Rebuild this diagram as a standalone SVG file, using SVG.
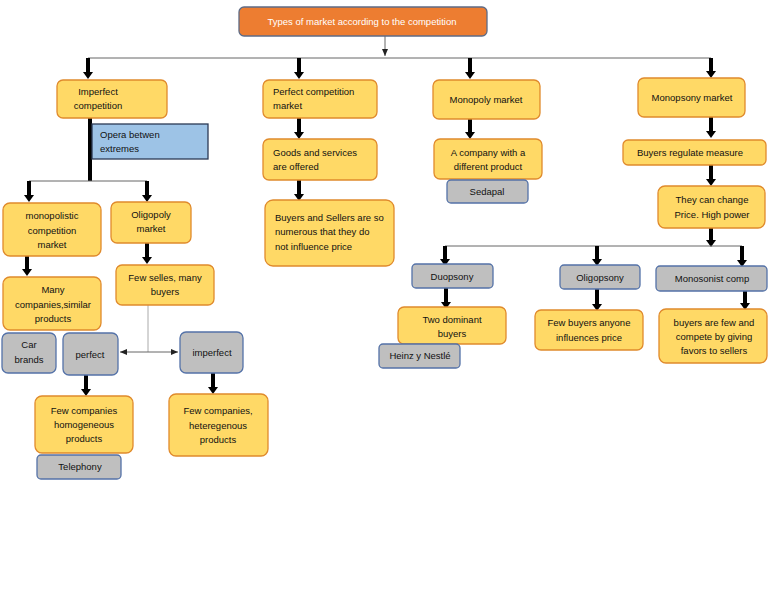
<svg xmlns="http://www.w3.org/2000/svg" width="768" height="594" viewBox="0 0 768 594">
<defs>
<marker id="thick" markerUnits="userSpaceOnUse" markerWidth="7" markerHeight="10" refX="0" refY="5" orient="auto" viewBox="0 0 7 10">
<path d="M0,0 L7,5 L0,10 Z" fill="#000"/>
</marker>
<marker id="thin" markerUnits="userSpaceOnUse" markerWidth="7" markerHeight="6" refX="7" refY="3" orient="auto" viewBox="0 0 7 6">
<path d="M0,0 L7,3 L0,6 Z" fill="#222"/>
</marker>
<style>
.y{fill:#FFD966;stroke:#E08A2C;stroke-width:1.3}
.g{fill:#BFBFBF;stroke:#5472A8;stroke-width:1.3}
.b{fill:#9DC3E6;stroke:#2B3A55;stroke-width:1.3}
.o{fill:#ED7D31;stroke:#5D6B86;stroke-width:1.3}
text{font-family:"Liberation Sans","DejaVu Sans",sans-serif;font-size:9.5px;fill:#111;text-anchor:middle}
text.l{text-anchor:start}
text.w{fill:#fff}
.tk{stroke:#000;stroke-width:4;fill:none}
.tn{stroke:#666;stroke-width:1;fill:none}
.tg{stroke:#aaa;stroke-width:1;fill:none}
</style>
</defs>
<rect width="768" height="594" fill="#fff"/>
<g id="connectors">
<line class="tn" x1="385" y1="36" x2="385" y2="56" marker-end="url(#thin)"/>
<line class="tn" x1="88" y1="58" x2="711" y2="58"/>
<line class="tk" x1="88" y1="58" x2="88" y2="72" marker-end="url(#thick)"/>
<line class="tk" x1="299" y1="58" x2="299" y2="72" marker-end="url(#thick)"/>
<line class="tk" x1="470" y1="58" x2="470" y2="72" marker-end="url(#thick)"/>
<line class="tk" x1="711" y1="58" x2="711" y2="71" marker-end="url(#thick)"/>
<line class="tk" x1="90" y1="118" x2="90" y2="181"/>
<line class="tn" x1="29" y1="181" x2="147" y2="181"/>
<line class="tk" x1="29" y1="181" x2="29" y2="195" marker-end="url(#thick)"/>
<line class="tk" x1="147" y1="181" x2="147" y2="195" marker-end="url(#thick)"/>
<line class="tk" x1="27" y1="256" x2="27" y2="269" marker-end="url(#thick)"/>
<line class="tk" x1="147" y1="243" x2="147" y2="257" marker-end="url(#thick)"/>
<line class="tg" x1="148" y1="305" x2="148" y2="352"/>
<line class="tn" x1="148" y1="352" x2="120" y2="352" marker-end="url(#thin)"/>
<line class="tn" x1="148" y1="352" x2="178" y2="352" marker-end="url(#thin)"/>
<line class="tk" x1="86" y1="375" x2="86" y2="389" marker-end="url(#thick)"/>
<line class="tk" x1="213" y1="373" x2="213" y2="387" marker-end="url(#thick)"/>
<line class="tk" x1="299" y1="118" x2="299" y2="132" marker-end="url(#thick)"/>
<line class="tk" x1="299" y1="180" x2="299" y2="194" marker-end="url(#thick)"/>
<line class="tk" x1="470" y1="119" x2="470" y2="132" marker-end="url(#thick)"/>
<line class="tk" x1="711" y1="117" x2="711" y2="131" marker-end="url(#thick)"/>
<line class="tk" x1="711" y1="165" x2="711" y2="179" marker-end="url(#thick)"/>
<line class="tk" x1="711" y1="228" x2="711" y2="240" marker-end="url(#thick)"/>
<line class="tn" x1="445" y1="246" x2="742" y2="246"/>
<line class="tk" x1="445" y1="246" x2="445" y2="259" marker-end="url(#thick)"/>
<line class="tk" x1="597" y1="246" x2="597" y2="259" marker-end="url(#thick)"/>
<line class="tk" x1="742" y1="246" x2="742" y2="260" marker-end="url(#thick)"/>
<line class="tk" x1="446" y1="288" x2="446" y2="302" marker-end="url(#thick)"/>
<line class="tk" x1="597" y1="289" x2="597" y2="304" marker-end="url(#thick)"/>
<line class="tk" x1="745" y1="291" x2="745" y2="303" marker-end="url(#thick)"/>
</g>
<g id="title"><rect class="o" x="239" y="7" width="248" height="29" rx="5"/><text class="w" x="362" y="25">Types of market according to the competition</text></g>
<g id="imperfect"><rect class="y" x="57" y="80" width="110" height="38" rx="6"/><text x="98" y="95">Imperfect</text><text x="98" y="109">competition</text></g>
<g id="perfect-market"><rect class="y" x="263" y="80" width="114" height="38" rx="6"/><text class="l" x="273" y="95">Perfect competition</text><text class="l" x="273" y="109">market</text></g>
<g id="monopoly"><rect class="y" x="433" y="80" width="107" height="39" rx="6"/><text x="486" y="103">Monopoly market</text></g>
<g id="monopsony"><rect class="y" x="638" y="78" width="107" height="39" rx="6"/><text x="692" y="101">Monopsony market</text></g>
<g id="opera"><rect class="b" x="92" y="124" width="116" height="35"/><text class="l" x="100" y="138">Opera betwen</text><text class="l" x="100" y="152">extremes</text></g>
<g id="monopolistic"><rect class="y" x="3" y="203" width="98" height="53" rx="7"/><text x="52" y="219">monopolistic</text><text x="52" y="234">competition</text><text x="52" y="248">market</text></g>
<g id="oligopoly"><rect class="y" x="111" y="202" width="80" height="41" rx="6"/><text x="151" y="218">Oligopoly</text><text x="151" y="232">market</text></g>
<g id="many-companies"><rect class="y" x="3" y="277" width="98" height="53" rx="7"/><text x="53" y="293">Many</text><text x="53" y="308">companies,similar</text><text x="53" y="322">products</text></g>
<g id="few-selles"><rect class="y" x="116" y="265" width="98" height="40" rx="6"/><text x="165" y="281">Few selles, many</text><text x="165" y="295">buyers</text></g>
<g id="car-brands"><rect class="g" x="2" y="333" width="54" height="40" rx="6"/><text x="29" y="348">Car</text><text x="29" y="363">brands</text></g>
<g id="perfect"><rect class="g" x="63" y="333" width="55" height="42" rx="6"/><text x="90" y="358">perfect</text></g>
<g id="imperfect2"><rect class="g" x="180" y="332" width="63" height="41" rx="6"/><text x="212" y="356">imperfect</text></g>
<g id="few-homogeneous"><rect class="y" x="35" y="396" width="98" height="57" rx="7"/><text x="84" y="414">Few companies</text><text x="84" y="428">homogeneous</text><text x="84" y="442">products</text></g>
<g id="telephony"><rect class="g" x="37" y="455" width="84" height="24" rx="4"/><text x="80" y="470">Telephony</text></g>
<g id="few-heteregenous"><rect class="y" x="169" y="394" width="99" height="62" rx="7"/><text x="218" y="414">Few companies,</text><text x="218" y="429">heteregenous</text><text x="218" y="443">products</text></g>
<g id="goods"><rect class="y" x="263" y="139" width="114" height="41" rx="6"/><text class="l" x="273" y="156">Goods and services</text><text class="l" x="273" y="170">are offered</text></g>
<g id="buyers-sellers"><rect class="y" x="265" y="200" width="129" height="66" rx="8"/><text class="l" x="275" y="221">Buyers and Sellers are so</text><text class="l" x="275" y="235">numerous that they do</text><text class="l" x="275" y="250">not influence price</text></g>
<g id="company-different"><rect class="y" x="434" y="139" width="108" height="40" rx="6"/><text x="488" y="156">A company with a</text><text x="488" y="170">different product</text></g>
<g id="sedapal"><rect class="g" x="447" y="180" width="81" height="23" rx="4"/><text x="487" y="195">Sedapal</text></g>
<g id="buyers-regulate"><rect class="y" x="623" y="140" width="143" height="25" rx="5"/><text x="690" y="156">Buyers regulate measure</text></g>
<g id="change-price"><rect class="y" x="658" y="186" width="107" height="42" rx="7"/><text x="712" y="203">They can change</text><text x="712" y="218">Price. High power</text></g>
<g id="duopsony"><rect class="g" x="412" y="264" width="81" height="24" rx="4"/><text x="452" y="280">Duopsony</text></g>
<g id="two-dominant"><rect class="y" x="398" y="307" width="108" height="37" rx="6"/><text x="452" y="323">Two dominant</text><text x="452" y="337">buyers</text></g>
<g id="heinz"><rect class="g" x="379" y="344" width="81" height="24" rx="4"/><text x="420" y="359">Heinz y Nestlé</text></g>
<g id="oligopsony"><rect class="g" x="560" y="265" width="80" height="24" rx="4"/><text x="600" y="281">Oligopsony</text></g>
<g id="few-buyers"><rect class="y" x="535" y="310" width="108" height="40" rx="6"/><text x="589" y="326">Few buyers anyone</text><text x="589" y="341">influences price</text></g>
<g id="monosonist"><rect class="g" x="656" y="266" width="111" height="25" rx="4"/><text x="712" y="282">Monosonist comp</text></g>
<g id="buyers-few"><rect class="y" x="659" y="309" width="108" height="54" rx="7"/><text x="714" y="326">buyers are few and</text><text x="714" y="340">compete by giving</text><text x="714" y="354">favors to sellers</text></g>
</svg>
